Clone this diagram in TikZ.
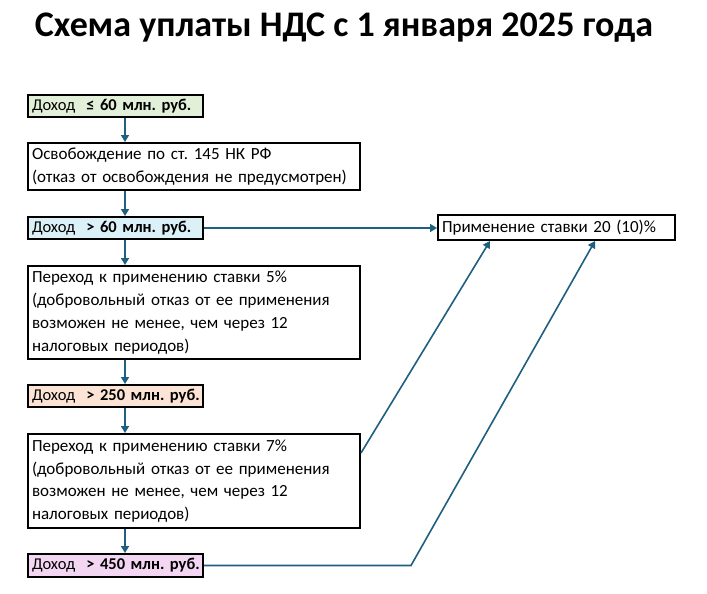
\documentclass[tikz,border=0pt]{standalone}
\usepackage{fontspec}
\setmainfont{Carlito}
\usetikzlibrary{arrows.meta}
\definecolor{arr}{HTML}{1F5F7F}
\definecolor{fgreen}{HTML}{E2F0D9}
\definecolor{fblue}{HTML}{DCF0F8}
\definecolor{fpeach}{HTML}{FBE4D6}
\definecolor{fpink}{HTML}{F3D6F2}
\tikzset{
  box/.style={draw=black, line width=2pt, anchor=north west, align=left,
    inner xsep=4pt, inner ysep=0pt, font=\fontsize{17}{22.8}\selectfont},
  narrow/.style={box, text width=167pt, minimum height=22pt, font=\fontsize{16.5}{20}\selectfont},
  wide/.style={box, text width=324pt},
  conn/.style={draw=arr, line width=1.6pt, -{Triangle[length=7pt,width=8pt]}},
  plain/.style={draw=arr, line width=1.6pt},
}
\begin{document}
\frenchspacing
\begin{tikzpicture}[x=1pt,y=-1pt]
\useasboundingbox[fill=white] (0,0) rectangle (707,594);
\node[font=\fontsize{36}{40}\selectfont\bfseries, anchor=base] (title) at (344,37) {Схема уплаты НДС с 1 января 2025 года};

\node[narrow, fill=fgreen] (b1) at (27,94) {\mbox{Доход~~\textbf{≤ 60 млн. руб.}}};
\node[wide, minimum height=47pt] (b2) at (27,142) {Освобождение по ст. 145 НК РФ\\(отказ от освобождения не предусмотрен)};
\node[narrow, fill=fblue] (b3) at (27,216) {\mbox{Доход~~\textbf{> 60 млн. руб.}}};
\node[wide, minimum height=93pt] (b4) at (27,265) {Переход к применению ставки 5\%\\(добровольный отказ от ее применения\\возможен не менее, чем через 12\\налоговых периодов)};
\node[narrow, fill=fpeach] (b5) at (27,384) {\mbox{Доход~~\textbf{> 250 млн. руб.}}};
\node[wide, minimum height=94pt] (b6) at (27,433) {Переход к применению ставки 7\%\\(добровольный отказ от ее применения\\возможен не менее, чем через 12\\налоговых периодов)};
\node[narrow, fill=fpink, minimum height=23pt] (b7) at (27,553) {\mbox{Доход~~\textbf{> 450 млн. руб.}}};
\node[box, text width=229pt, minimum height=25pt] (bR) at (437,214) {Применение ставки 20 (10)\%};

\draw[conn] ([xshift=98pt]b1.south west) -- ([xshift=98pt]b2.north west);
\draw[conn] ([xshift=98pt]b2.south west) -- ([xshift=98pt]b3.north west);
\draw[conn] ([xshift=98pt]b3.south west) -- ([xshift=98pt]b4.north west);
\draw[conn] ([xshift=98pt]b4.south west) -- ([xshift=98pt]b5.north west);
\draw[conn] ([xshift=98pt]b5.south west) -- ([xshift=98pt]b6.north west);
\draw[conn] ([xshift=98pt]b6.south west) -- ([xshift=98pt]b7.north west);

\draw[conn] (b3.east) -- (bR.west |- b3.east);
\draw[conn] ([yshift=-20pt]b6.north east) -- ([xshift=53pt]bR.south west);
\draw[conn] (b7.east) -- ++(207,0) -- ([xshift=158pt]bR.south west);
\end{tikzpicture}
\end{document}
